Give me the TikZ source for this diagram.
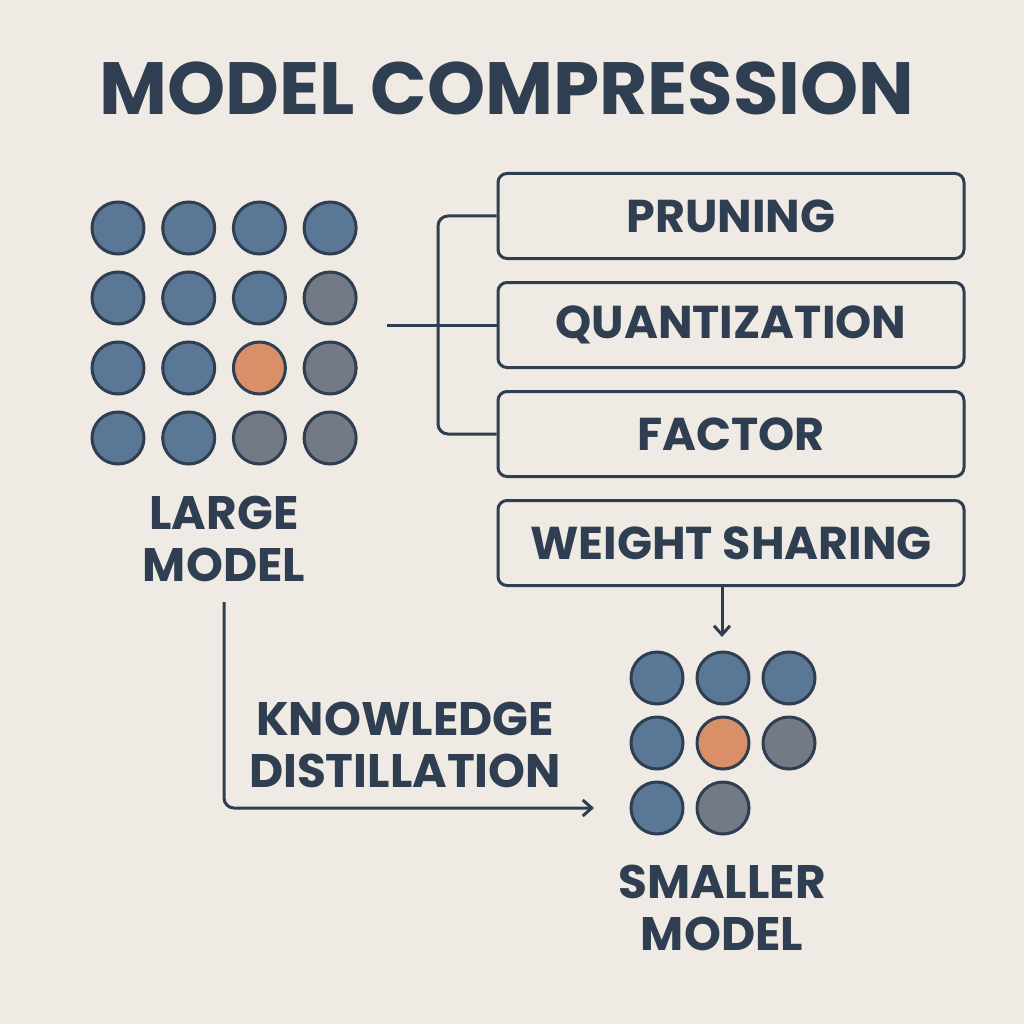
\documentclass[tikz,border=0pt]{standalone}
\usepackage{fontspec}
\setmainfont{Poppins}
\usetikzlibrary{arrows.meta}
\definecolor{bg}{HTML}{EFEAE3}
\definecolor{ink}{HTML}{2F3E50}
\definecolor{cb}{HTML}{5B7796}
\definecolor{cg}{HTML}{737A85}
\definecolor{co}{HTML}{D98F68}
\tikzset{
 dot/.style={circle,draw=ink,line width=3pt,minimum size=52pt,inner sep=0pt},
 tbox/.style={draw=ink,line width=3pt,rounded corners=9pt,minimum width=466pt,minimum height=85pt,font=\fontsize{46}{48}\selectfont\bfseries,text=ink},
 lbl/.style={font=\fontsize{47}{52}\selectfont\bfseries,text=ink,align=center},
 conn/.style={draw=ink,line width=3pt},
}
\begin{document}
\begin{tikzpicture}[x=1pt,y=-1pt]
\fill[bg] (0,0) rectangle (1024,1024);
\useasboundingbox (0,0) rectangle (1024,1024);
\node[font=\fontsize{74}{76}\selectfont\bfseries,text=ink] (title) at (507,88) {MODEL COMPRESSION};
\foreach \r/\cols in {0/{cb,cb,cb,cb},1/{cb,cb,cb,cg},2/{cb,cb,co,cg},3/{cb,cb,cg,cg}}{
  \foreach \c [count=\i from 0] in \cols {
    \node[dot,fill=\c] (L\r\i) at (118+70.7*\i,228+70*\r) {};
  }
}
\node[lbl] (large) at (224,539) {LARGE\\MODEL};
\node[tbox] (prun) at (731,216) {PRUNING};
\node[tbox] (quant) at (731,325) {QUANTIZATION};
\node[tbox] (fact) at (731,434) {FACTOR};
\node[tbox] (ws) at (731,543) {WEIGHT SHARING};
\coordinate (br) at (387,325);
\draw[conn] (br) -- (quant.west);
\draw[conn,rounded corners=10pt] (prun.west) -- (438,216) -- (438,434) -- (fact.west);
\foreach \r/\cols in {0/{cb,cb,cb},1/{cb,co,cg},2/{cb,cg}}{
  \foreach \c [count=\i from 0] in \cols {
    \node[dot,fill=\c] (S\r\i) at (657+66*\i,678+65*\r) {};
  }
}
\draw[conn,-{Straight Barb[length=9pt,width=16pt]}] (ws.south) ++(-9,0) coordinate (wsb) -- ++(0,50);
\node[lbl] (small) at (722,908) {SMALLER\\MODEL};
\coordinate (kdend) at (594,808);
\draw[conn,rounded corners=10pt,-{Straight Barb[length=9pt,width=16pt]}] (224,602) -- (224,808) -- (kdend);
\node[lbl] (kd) at (405,745) {KNOWLEDGE\\DISTILLATION};
\end{tikzpicture}
\end{document}
